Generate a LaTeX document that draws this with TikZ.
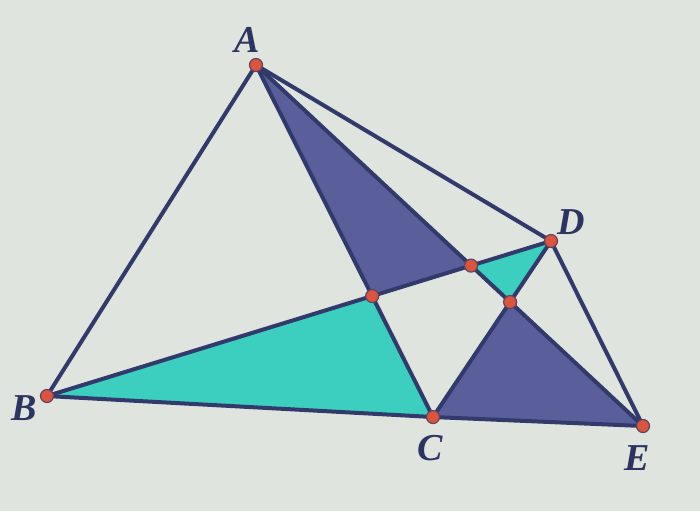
\documentclass[tikz,border=0pt]{standalone}
\usepackage{fontspec}
\setmainfont{Liberation Serif}
\definecolor{bgc}{HTML}{DFE4DE}
\definecolor{darkf}{HTML}{5A5F9C}
\definecolor{cyanf}{HTML}{3CCFC0}
\definecolor{linec}{HTML}{323A6C}
\definecolor{dotc}{HTML}{D9553F}
\begin{document}
\begin{tikzpicture}[x=0.5pt,y=-0.5pt,
  seg/.style={draw=linec,line width=2pt,line join=round,line cap=round},
  pt/.style={circle,fill=dotc,draw=linec!70!dotc,line width=0.6pt,inner sep=0pt,minimum size=6.5pt},
  lab/.style={font=\fontsize{19}{19}\selectfont\bfseries\itshape,text=linec!90!black}]
\fill[bgc] (0,0) rectangle (700,511);
\useasboundingbox (0,0) rectangle (700,511);
\coordinate (A) at (256,65);
\coordinate (B) at (47,396);
\coordinate (C) at (433,417);
\coordinate (D) at (551,241);
\coordinate (E) at (643,426);
\coordinate (P) at (intersection of A--C and B--D);
\coordinate (Q) at (intersection of A--E and B--D);
\coordinate (R) at (intersection of A--E and C--D);
% fills
\fill[darkf] (A) -- (P) -- (Q) -- cycle;
\fill[darkf] (C) -- (R) -- (E) -- cycle;
\fill[cyanf] (B) -- (C) -- (P) -- cycle;
\fill[cyanf] (Q) -- (D) -- (R) -- cycle;
% segments
\draw[seg] (A) -- (B);
\draw[seg] (B) -- (C);
\draw[seg] (C) -- (E);
\draw[seg] (E) -- (D);
\draw[seg] (D) -- (A);
\draw[seg] (A) -- (C);
\draw[seg] (B) -- (D);
\draw[seg] (C) -- (D);
\draw[seg] (A) -- (E);
% points
\foreach \p in {A,B,C,D,E,P,Q,R} \node[pt] (n\p) at (\p) {};
% labels
\node[lab] (lA) at (247,40) {A};
\node[lab] (lB) at (24,408) {B};
\node[lab] (lC) at (430,448) {C};
\node[lab] (lD) at (571,222) {D};
\node[lab] (lE) at (637,458) {E};
\end{tikzpicture}
\end{document}
